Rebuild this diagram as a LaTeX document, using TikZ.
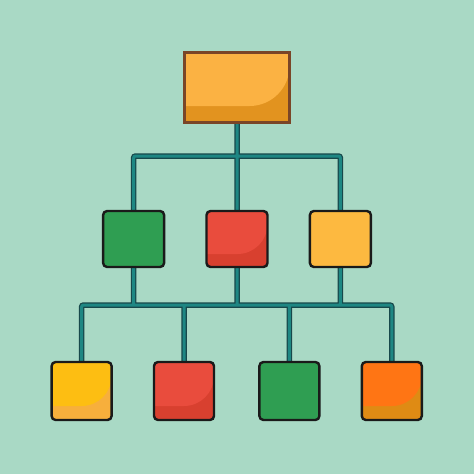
\documentclass[tikz,border=0pt]{standalone}
\usepackage{tikz}
\usetikzlibrary{positioning,calc,backgrounds}

\definecolor{mint}{HTML}{A9D9C5}
\definecolor{wiredark}{HTML}{17484A}
\definecolor{wireteal}{HTML}{1E8783}
\definecolor{edge}{HTML}{1A1A1A}
\definecolor{bossedge}{HTML}{7A4527}
\definecolor{bosslite}{HTML}{FBB243}
\definecolor{bossdark}{HTML}{E2931F}
\definecolor{grn}{HTML}{2F9E52}
\definecolor{redlite}{HTML}{E94C3D}
\definecolor{reddark}{HTML}{D8402F}
\definecolor{ylw}{HTML}{FDB940}
\definecolor{ylwlite}{HTML}{FDBE12}
\definecolor{ylwdark}{HTML}{F7AF3C}
\definecolor{orglite}{HTML}{FF7514}
\definecolor{orgdark}{HTML}{DF8B14}

\begin{document}
\begin{tikzpicture}[x=1pt,y=-1pt]
	\tikzstyle{boss} = [draw=bossedge, line width=3pt, fill=bossdark, minimum width=105pt, minimum height=70pt, inner sep=0pt]
	\tikzstyle{unit} = [draw=edge, line width=2.4pt, rounded corners=4pt, minimum width=61pt, minimum height=56pt, inner sep=0pt]
	\tikzstyle{staff} = [unit, minimum width=60pt, minimum height=58pt]
	\tikzstyle{wireout} = [draw=wiredark, line width=5.5pt, rounded corners=2pt]
	\tikzstyle{wirein} = [draw=wireteal, line width=3pt, rounded corners=2pt]
	\tikzset{lite/.style n args={3}{path picture={\fill[#1, rounded corners=#2] ([xshift=-60pt,yshift=60pt]path picture bounding box.north west) rectangle ([yshift=#3]path picture bounding box.south east);}}}

	% head of the tree
	\node [boss, lite={bosslite}{40pt}{16pt}] (head) at (237,87) {};

	% middle row
	\node [unit, fill=reddark, lite={redlite}{30pt}{13pt}] (teamB) at (237,239) {};
	\node [unit, fill=grn, left = 40pt of teamB] (teamA) {};
	\node [unit, fill=ylw, right = 40pt of teamB] (teamC) {};

	% bottom row
	\node [staff, fill=reddark, lite={redlite}{30pt}{14pt}] (staffB) at (184,391) {};
	\node [staff, fill=ylwdark, lite={ylwlite}{30pt}{14pt}, left = 40pt of staffB] (staffA) {};
	\node [staff, fill=grn, right = 43pt of staffB] (staffC) {};
	\node [staff, fill=orgdark, lite={orglite}{30pt}{14pt}, right = 40pt of staffC] (staffD) {};

	\coordinate (hub1) at (237,156);
	\coordinate (hub2) at (237,305);

	\begin{scope}[on background layer]
		\fill[mint] (0,0) rectangle (474,474);
		\draw[wireout] (head) -- (hub1) (teamA) |- (hub1) -| (teamC) (teamB) -- (hub1)
			(teamA) -- (teamA |- hub2) (teamB) -- (hub2) (teamC) -- (teamC |- hub2)
			(staffA) |- (hub2) -| (staffD) (staffB) -- (staffB |- hub2) (staffC) -- (staffC |- hub2);
		\draw[wirein] (head) -- (hub1) (teamA) |- (hub1) -| (teamC) (teamB) -- (hub1)
			(teamA) -- (teamA |- hub2) (teamB) -- (hub2) (teamC) -- (teamC |- hub2)
			(staffA) |- (hub2) -| (staffD) (staffB) -- (staffB |- hub2) (staffC) -- (staffC |- hub2);
	\end{scope}
\end{tikzpicture}
\end{document}
